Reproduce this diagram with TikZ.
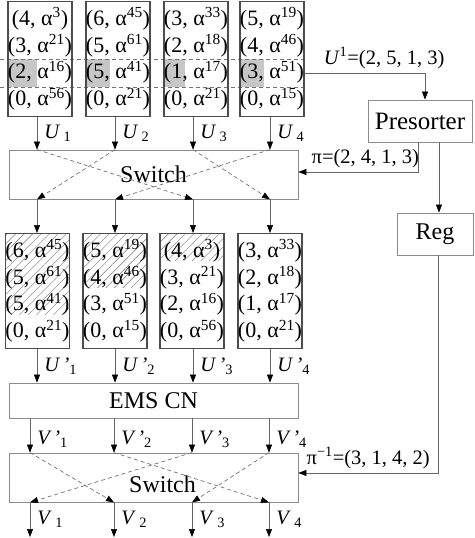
\documentclass[tikz,border=0pt]{standalone}
\usepackage{fontspec}
\setmainfont{Liberation Serif}
\usepackage{tikz}
\usetikzlibrary{arrows.meta,positioning,patterns.meta}

\newcommand{\ent}[2]{(#1, α\textsuperscript{#2})}

\begin{document}
\begin{tikzpicture}[
    x=1pt,
    y=-1pt,
    column/.style={
        rectangle,
        draw=black!70,
        line width=1.1pt,
        minimum width=63pt,
        minimum height=115pt,
        anchor=north,
        align=center,
        inner sep=0pt,
        font=\fontsize{22}{26.7}\selectfont
    },
    block/.style={
        rectangle,
        draw=black!45,
        line width=0.8pt,
        font=\fontsize{24}{28}\selectfont
    },
    lbl/.style={
        inner sep=0pt,
        font=\fontsize{20.5}{24}\selectfont
    },
    arrow/.style={
        draw=black!60,
        line width=0.7pt,
        -{Triangle[length=8pt,width=6pt,color=black]}
    },
    cross_arrow/.style={
        draw=black!55,
        line width=0.7pt,
        dash pattern=on 4pt off 3pt,
        -{Triangle[length=8pt,width=6pt,color=black]}
    }
]
\useasboundingbox (0,0) rectangle (474,538);

% lanes
\coordinate (a1) at (37,0);
\coordinate (a2) at (115,0);
\coordinate (a3) at (193,0);
\coordinate (a4) at (270,0);
\coordinate (b1) at (30,0);
\coordinate (b2) at (114,0);
\coordinate (b3) at (192,0);
\coordinate (b4) at (269,0);
\coordinate (c1) at (439,0);
\coordinate (bottom) at (0,537);

% selected row
\fill[black!22] (9,59) rectangle (37,87);
\fill[black!22] (87,59) rectangle (110,87);
\fill[black!22] (164,59) rectangle (185,87);
\fill[black!22] (241,59) rectangle (264,87);
\draw[black!55, line width=0.7pt, dash pattern=on 4pt off 3pt] (0,59) -- (303,59);
\draw[black!55, line width=0.7pt, dash pattern=on 4pt off 3pt] (0,87) -- (303,87);

% input columns
\node[column] (u1) at (40,1) {\ent{4}{3}\\\ent{3}{21}\\\ent{2}{16}\\\ent{0}{56}};
\node[column] (u2) at (118,1) {\ent{6}{45}\\\ent{5}{61}\\\ent{5}{41}\\\ent{0}{21}};
\node[column] (u3) at (196,1) {\ent{3}{33}\\\ent{2}{18}\\\ent{1}{17}\\\ent{0}{21}};
\node[column] (u4) at (272,1) {\ent{5}{19}\\\ent{4}{46}\\\ent{3}{51}\\\ent{0}{15}};

% first switch
\node[block, minimum width=289pt, minimum height=49pt] (sw1) at (153.5,174.5) {Switch};

\draw[arrow] (a1 |- u1.south) -- node[lbl, right=7pt] {\textit{U}\,\textsubscript{1}} (a1 |- sw1.north);
\draw[arrow] (a2 |- u2.south) -- node[lbl, right=7pt] {\textit{U}\,\textsubscript{2}} (a2 |- sw1.north);
\draw[arrow] (a3 |- u3.south) -- node[lbl, right=7pt] {\textit{U}\,\textsubscript{3}} (a3 |- sw1.north);
\draw[arrow] (a4 |- u4.south) -- node[lbl, right=7pt] {\textit{U}\,\textsubscript{4}} (a4 |- sw1.north);

\draw[cross_arrow] (a1 |- sw1.north) -- (a3 |- sw1.south);
\draw[cross_arrow] (a2 |- sw1.north) -- (a1 |- sw1.south);
\draw[cross_arrow] (a3 |- sw1.north) -- (a4 |- sw1.south);
\draw[cross_arrow] (a4 |- sw1.north) -- (a2 |- sw1.south);

% sorted columns
\fill[pattern={Lines[angle=45,distance=6pt,line width=0.4pt]}, pattern color=black!55] (6,233) rectangle (69,314);
\fill[pattern={Lines[angle=45,distance=6pt,line width=0.4pt]}, pattern color=black!55] (83,233) rectangle (147,287);
\fill[pattern={Lines[angle=45,distance=6pt,line width=0.4pt]}, pattern color=black!55] (161,233) rectangle (223,260);

\node[column] (l1) at (37.5,233) {\ent{6}{45}\\\ent{5}{61}\\\ent{5}{41}\\\ent{0}{21}};
\node[column] (l2) at (115,233) {\ent{5}{19}\\\ent{4}{46}\\\ent{3}{51}\\\ent{0}{15}};
\node[column] (l3) at (192,233) {\ent{4}{3}\\\ent{3}{21}\\\ent{2}{16}\\\ent{0}{56}};
\node[column] (l4) at (270,233) {\ent{3}{33}\\\ent{2}{18}\\\ent{1}{17}\\\ent{0}{21}};

\draw[arrow] (a1 |- sw1.south) -- (a1 |- l1.north);
\draw[arrow] (a2 |- sw1.south) -- (a2 |- l2.north);
\draw[arrow] (a3 |- sw1.south) -- (a3 |- l3.north);
\draw[arrow] (a4 |- sw1.south) -- (a4 |- l4.north);

% check node
\node[block, minimum width=289pt, minimum height=35pt] (ems) at (153.5,400.5) {EMS CN};

\draw[arrow] (a1 |- l1.south) -- node[lbl, right=7pt] {\textit{U\,’}\textsubscript{1}} (a1 |- ems.north);
\draw[arrow] (a2 |- l2.south) -- node[lbl, right=7pt] {\textit{U\,’}\textsubscript{2}} (a2 |- ems.north);
\draw[arrow] (a3 |- l3.south) -- node[lbl, right=7pt] {\textit{U\,’}\textsubscript{3}} (a3 |- ems.north);
\draw[arrow] (a4 |- l4.south) -- node[lbl, right=7pt] {\textit{U\,’}\textsubscript{4}} (a4 |- ems.north);

% second switch
\node[block, minimum width=289pt, minimum height=49pt] (sw2) at (153.5,477.5) {};
\node[lbl, font=\fontsize{24}{28}\selectfont] (sw2text) at ([xshift=9pt,yshift=-7pt]sw2.center) {Switch};

\draw[arrow] (b1 |- ems.south) -- node[lbl, right=7pt, pos=0.6] {\textit{V\,’}\textsubscript{1}} (b1 |- sw2.north);
\draw[arrow] (b2 |- ems.south) -- node[lbl, right=7pt, pos=0.6] {\textit{V\,’}\textsubscript{2}} (b2 |- sw2.north);
\draw[arrow] (b3 |- ems.south) -- node[lbl, right=7pt, pos=0.6] {\textit{V\,’}\textsubscript{3}} (b3 |- sw2.north);
\draw[arrow] (b4 |- ems.south) -- node[lbl, right=7pt, pos=0.6] {\textit{V\,’}\textsubscript{4}} (b4 |- sw2.north);

\draw[cross_arrow] (b1 |- sw2.north) -- (b2 |- sw2.south);
\draw[cross_arrow] (b2 |- sw2.north) -- (b4 |- sw2.south);
\draw[cross_arrow] (b3 |- sw2.north) -- (b1 |- sw2.south);
\draw[cross_arrow] (b4 |- sw2.north) -- (b3 |- sw2.south);

\draw[arrow] (b1 |- sw2.south) -- node[lbl, right=7pt] {\textit{V}\,\textsubscript{1}} (b1 |- bottom);
\draw[arrow] (b2 |- sw2.south) -- node[lbl, right=7pt] {\textit{V}\,\textsubscript{2}} (b2 |- bottom);
\draw[arrow] (b3 |- sw2.south) -- node[lbl, right=7pt] {\textit{V}\,\textsubscript{3}} (b3 |- bottom);
\draw[arrow] (b4 |- sw2.south) -- node[lbl, right=7pt] {\textit{V}\,\textsubscript{4}} (b4 |- bottom);

% presorter and register
\node[block, minimum width=104pt, minimum height=42pt, font=\fontsize{25}{30}\selectfont] (pre) at (420,121) {Presorter};
\node[block, minimum width=76pt, minimum height=42pt] (reg) at (435,234) {Reg};

\draw[arrow] ([yshift=-14pt]u4.east) -| node[lbl, pos=0.33, above=4pt] {\textit{U}\textsuperscript{1}=(2, 5, 1, 3)} ([xshift=5pt]pre.north);
\draw[arrow] ([xshift=-2pt]pre.south) |- node[lbl, pos=0.72, above=4pt] {π=(2, 4, 1, 3)} ([yshift=2.5pt]sw1.east);
\draw[arrow] (c1 |- pre.south) -- (c1 |- reg.north);
\draw[arrow] ([xshift=3pt]reg.south) |- node[lbl, pos=0.75, above=4pt] {π\textsuperscript{−1}=(3, 1, 4, 2)} ([yshift=4.5pt]sw2.east);

\end{tikzpicture}
\end{document}
